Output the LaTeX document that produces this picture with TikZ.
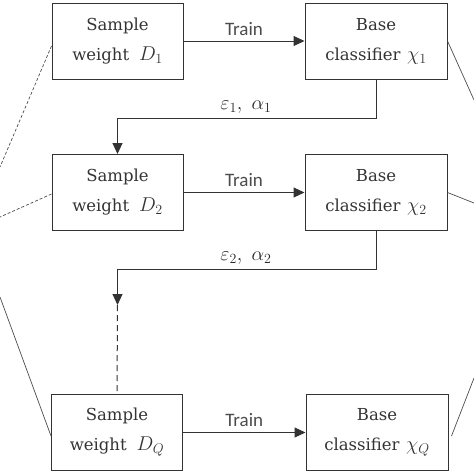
\documentclass[tikz,border=0pt]{standalone}
\usepackage{fix-cm}
\usepackage{fontspec}
\newfontfamily\trainfont{Carlito}
\newfontfamily\boxfont{DejaVu Serif}
\usetikzlibrary{arrows.meta}
\newcommand{\mth}[1]{{\fontsize{20}{22}\selectfont$#1$}}
\begin{document}
\begin{tikzpicture}[x=1pt,y=-1pt,
  lc/.style={draw=black!80, line width=1pt},
  sbox/.style={lc, minimum width=131pt, minimum height=76pt, inner sep=0pt, align=center,
    font=\boxfont\fontsize{16.5}{30}\selectfont, text=black!80},
  cbox/.style={sbox, minimum width=142pt},
  lbl/.style={font=\trainfont\fontsize{19}{22}\selectfont, text=black!70, inner sep=0pt},
  mlbl/.style={font=\fontsize{20}{22}\selectfont, text=black!85, inner sep=0pt},
  arr/.style={lc, -{Triangle[length=11pt,width=10pt]}},
  side/.style={draw=black!70, line width=0.7pt},
  sided/.style={side, dash pattern=on 3pt off 2pt},
]
\useasboundingbox (0,0) rectangle (474,474);
% boxes
\node[sbox] (a1) at (117.5,41) {Sample\\weight\hspace{0.6em}\mth{D_1}};
\node[cbox] (c1) at (376,41) {Base\\classifier\hspace{0.4em}\mth{\chi_1}};
\node[sbox] (a2) at (117.5,192.5) {Sample\\weight\hspace{0.6em}\mth{D_2}};
\node[cbox] (c2) at (376,192.5) {Base\\classifier\hspace{0.4em}\mth{\chi_2}};
\node[sbox] (aQ) at (117,432.5) {Sample\\weight\hspace{0.6em}\mth{D_Q}};
\node[cbox] (cQ) at (377,432.5) {Base\\classifier\hspace{0.4em}\mth{\chi_Q}};
% train arrows
\draw[arr] (a1.east) -- (c1.west) node[midway, above=5pt, lbl] {Train};
\draw[arr] (a2.east) -- (c2.west) node[midway, above=5pt, lbl] {Train};
\draw[arr] (aQ.east) -- (cQ.west) node[midway, above=5pt, lbl] {Train};
% feedback 1
\coordinate (k1) at (117.5,118);
\draw[arr] (c1.south) |- (k1) -- (a2.north);
\node[mlbl, anchor=base] (e1) at (246,109) {$\varepsilon_1,\ \alpha_1$};
% feedback 2
\coordinate (k2) at (117.5,269);
\coordinate (t2) at (117.5,305);
\draw[arr] (c2.south) |- (k2) -- (t2);
\draw[lc, dash pattern=on 6pt off 4pt] (t2) -- (aQ.north);
\node[mlbl, anchor=base] (e2) at (246,260) {$\varepsilon_2,\ \alpha_2$};
% side lines left
\coordinate (l1) at (0,167);
\coordinate (l2) at (0,217);
\coordinate (l3) at (0,297);
\draw[sided] ([yshift=-5pt]a1.west) -- (l1);
\draw[sided] ([yshift=-1.5pt]a2.west) -- (l2);
\draw[side] ([yshift=-3.5pt]aQ.west) -- (l3);
% side lines right
\coordinate (r1) at (474,100);
\coordinate (r2) at (474,203);
\coordinate (r3) at (474,378);
\draw[side] (c1.east) -- (r1);
\draw[side] (c2.east) -- (r2);
\draw[side] ([xshift=3pt,yshift=-3.5pt]cQ.east) -- (r3);
\end{tikzpicture}
\end{document}
